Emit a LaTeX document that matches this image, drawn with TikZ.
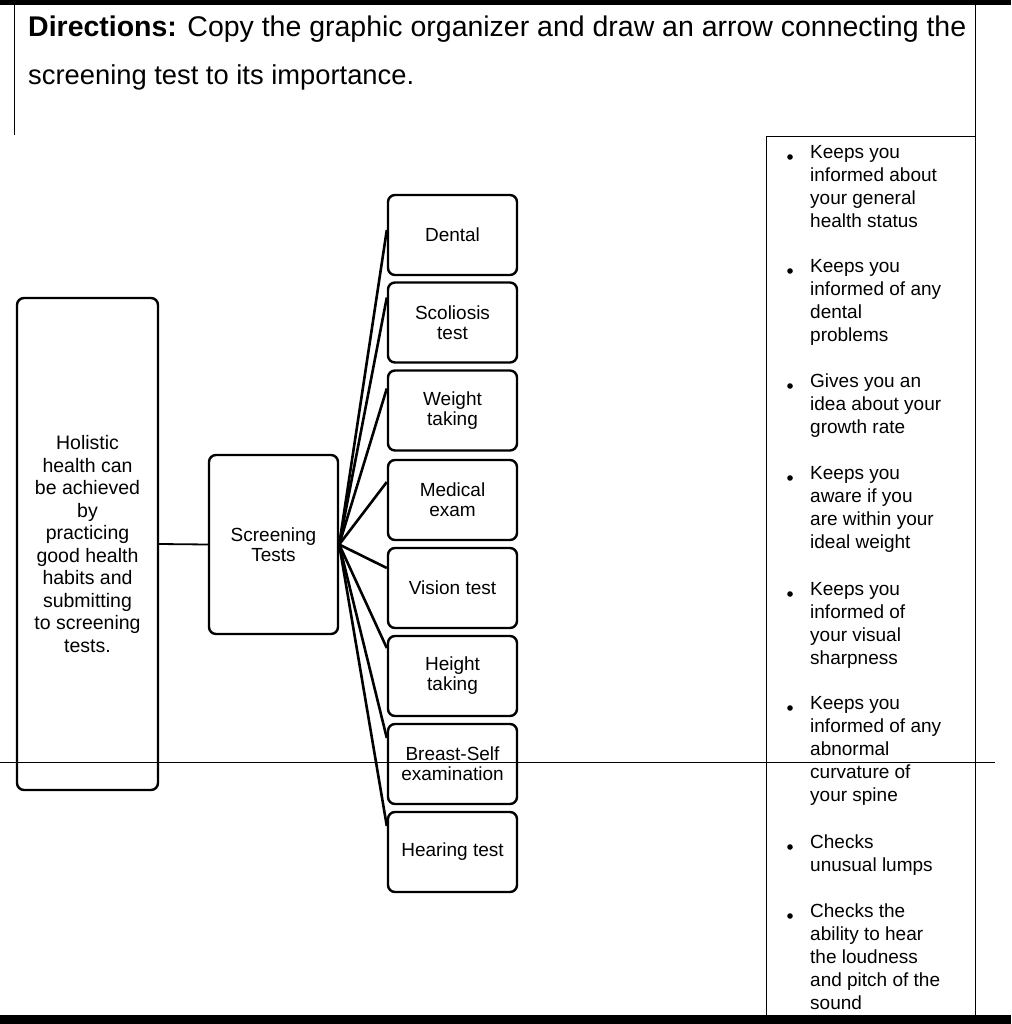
\documentclass[tikz,border=0pt]{standalone}
\usepackage{fontspec}
\setmainfont{Liberation Sans}
\begin{document}
\begin{tikzpicture}[x=1pt,y=-1pt,
  box/.style={draw,line width=2.4pt,rounded corners=7pt,align=center,font=\fontsize{19}{20}\selectfont,inner sep=0pt},
  tbox/.style={box,minimum width=129pt,minimum height=80pt},
  con/.style={line width=2.6pt},
  item/.style={anchor=north west,align=left,font=\fontsize{19}{23}\selectfont,inner sep=0pt}]
\useasboundingbox (0,0) rectangle (1011,1024);
\fill (0,0) rectangle (1011,5);
\fill (0,1015) rectangle (1011,1024);
\draw[line width=1pt] (14,5) -- (14,135);
\draw[line width=1pt] (975,5) -- (975,137);
\node[anchor=north west,align=left,font=\fontsize{25.5}{48}\selectfont,inner sep=0pt] (dir) at (28,16)
 {\resizebox{938pt}{!}{\textbf{Directions:} Copy the graphic organizer and draw an arrow connecting the}\\\resizebox{386pt}{!}{screening test to its importance.}};
\draw[line width=1pt] (766,1015) -- (766,137) -- (975,137) -- (975,1015);
\draw[line width=1pt] (0,762) -- (995,762);
\node[box,minimum width=141pt,minimum height=492pt,font=\fontsize{19.5}{22.5}\selectfont] (hol) at (87.5,544)
 {Holistic\\health can\\be achieved\\by\\practicing\\good health\\habits and\\submitting\\to screening\\tests.};
\node[box,minimum width=129pt,minimum height=179pt] (scr) at (273.5,544.5) {Screening\\Tests};
\draw[line width=1.8pt] (hol.east) -- (scr.west);
\foreach \n/\y/\t/\o in {d/235/Dental/5, s/322.5/Scoliosis\\test/25, w/410.5/Weight\\taking/22, m/500/Medical\\exam/18, v/588/Vision test/20, h/676/Height\\taking/28, b/764/Breast-Self\\examination/26, e/852/Hearing test/26}{
  \node[tbox] (\n) at (452.5,\y) {\t};
  \draw[con] (scr.east) -- ([yshift=\o pt]\n.west);
}
\foreach \y/\t in {145/Keeps you\\informed about\\your general\\health status,
 259/Keeps you\\informed of any\\dental\\problems,
 374/Gives you an\\idea about your\\growth rate,
 466/Keeps you\\aware if you\\are within your\\ideal weight,
 582/Keeps you\\informed of\\your visual\\sharpness,
 696/Keeps you\\informed of any\\abnormal\\curvature of\\your spine,
 835/Checks\\unusual lumps,
 904/Checks the\\ability to hear\\the loudness\\and pitch of the\\sound}{
  \node[item] at (810,\y) {\t};
  \fill (790,\y+12) circle (2.8pt);
}
\end{tikzpicture}
\end{document}
